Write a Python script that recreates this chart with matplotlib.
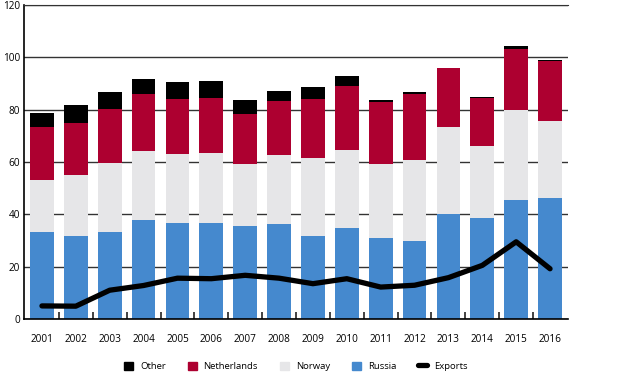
import numpy as np
import matplotlib.pyplot as plt
from matplotlib.lines import Line2D
from matplotlib.patches import Patch

plt.rcParams['font.family'] = ['Open Sans', 'DejaVu Sans']

years = ['2001', '2002', '2003', '2004', '2005', '2006', '2007', '2008',
         '2009', '2010', '2011', '2012', '2013', '2014', '2015', '2016']

russia = [33.3, 31.6, 33.3, 37.8, 36.6, 36.6, 35.6, 36.2,
          31.6, 34.6, 30.9, 30.0, 40.0, 38.5, 45.3, 46.1]
norway_top = [53.3, 54.9, 59.7, 64.3, 62.9, 63.4, 59.4, 62.6,
              61.6, 64.6, 59.4, 60.9, 73.5, 66.3, 80.0, 75.8]
nl_top = [73.3, 75.0, 80.2, 86.0, 84.1, 84.6, 78.5, 83.2,
          84.0, 88.9, 83.0, 86.1, 95.8, 84.3, 103.1, 98.6]
other_top = [78.8, 81.7, 86.7, 91.8, 90.7, 90.8, 83.7, 87.1,
             88.7, 92.8, 83.8, 86.9, 95.8, 84.9, 104.2, 99.1]
exports = [5.0, 4.9, 11.0, 12.8, 15.6, 15.4, 16.7, 15.6,
           13.5, 15.4, 12.2, 12.9, 15.8, 20.5, 29.5, 19.2]

russia = np.array(russia)
norway = np.array(norway_top) - russia
netherlands = np.array(nl_top) - np.array(norway_top)
other = np.array(other_top) - np.array(nl_top)

c_other = '#000000'
c_nl = '#AD0030'
c_nor = '#E6E6E8'
c_rus = '#4589CE'

fig = plt.figure(figsize=(6.4, 3.74), dpi=100)
ax = fig.add_axes([24/640, 55/374, 544/640, 314/374])

x = np.arange(len(years))
w = 0.7
ax.bar(x, russia, w, color=c_rus, zorder=2)
ax.bar(x, norway, w, bottom=russia, color=c_nor, zorder=2)
ax.bar(x, netherlands, w, bottom=russia + norway, color=c_nl, zorder=2)
ax.bar(x, other, w, bottom=russia + norway + netherlands, color=c_other, zorder=2)
ax.plot(x, exports, color='black', lw=3.8, solid_capstyle='round',
        solid_joinstyle='round', zorder=3)

ax.set_xlim(-0.53, 15.53)
ax.set_ylim(0, 120)
ax.set_yticks(range(0, 121, 20))
ax.yaxis.grid(True, color='#333333', lw=1.0, zorder=0)
ax.set_axisbelow(True)
ax.tick_params(axis='y', length=0, labelsize=7.2, pad=3)
ax.set_xticks(x)
ax.set_xticklabels(years)
ax.tick_params(axis='x', length=0, labelsize=7.2, pad=11)
ax.set_xticks(x[:-1] + 0.5, minor=True)
ax.tick_params(axis='x', which='minor', direction='in', length=5, width=1.2, color='#222222')

ax.spines['right'].set_visible(False)
ax.spines['top'].set_color('#333333')
ax.spines['left'].set_linewidth(1.2)
ax.spines['bottom'].set_linewidth(1.2)

handles = [Patch(color=c_other, label='Other'),
           Patch(color=c_nl, label='Netherlands'),
           Patch(color=c_nor, label='Norway'),
           Patch(color=c_rus, label='Russia'),
           Line2D([0], [0], color='black', lw=3.8, solid_capstyle='round', label='Exports')]
fig.legend(handles=handles, loc='lower center', bbox_to_anchor=(0.462, -0.015), ncol=5,
           frameon=False, fontsize=6.8, handlelength=1.0, handleheight=1.0,
           columnspacing=2.3, handletextpad=0.7)

fig.savefig('out.png', dpi=100)
